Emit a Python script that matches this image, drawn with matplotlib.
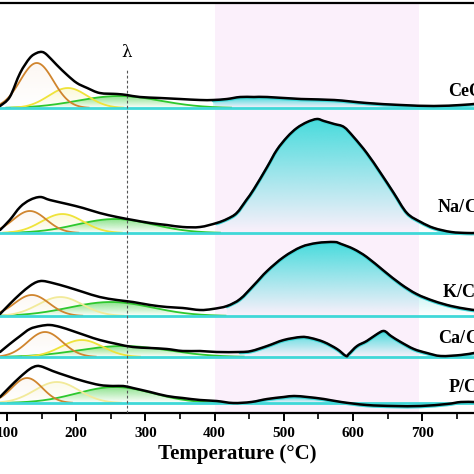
import numpy as np
import matplotlib
matplotlib.use("Agg")
import matplotlib.pyplot as plt
from matplotlib.patches import PathPatch
from matplotlib.path import Path
from matplotlib.colors import to_rgb

# ---------------- data ----------------
samples = ["CeO$_2$", "Na/CeO$_2$", "K/CeO$_2$", "Ca/CeO$_2$", "P/CeO$_2$"]
offsets = [305, 180, 97, 56, 10]

ce_T = [90, 104, 119, 133, 143, 151, 158, 172, 187, 201, 216, 234, 259, 273, 292, 321, 350, 379, 398, 418, 437, 457, 476, 525, 573, 620, 669, 717, 756, 775]
ce_I = [2, 11, 35, 50, 55, 56, 53, 43, 33, 25, 20, 15, 14, 13, 11, 10, 9, 8, 8, 9, 11, 11, 11, 9, 8, 5, 3, 2, 3, 4]

na_T = [90, 104, 119, 133, 148, 162, 187, 210, 234, 259, 282, 307, 331, 354, 379, 403, 418, 432, 446, 457, 476, 490, 505, 519, 534, 548, 558, 573, 587, 601, 620, 640, 659, 678, 698, 717, 742, 765, 775]
na_I = [3, 13, 26, 33, 36, 33, 29, 25, 20, 16, 13, 10, 8, 6, 6, 10, 14, 20, 33, 44, 66, 83, 96, 105, 111, 114, 112, 109, 106, 96, 80, 60, 40, 20, 11, 5, 1, 0, 0]

k_T = [90, 104, 119, 133, 143, 152, 166, 187, 210, 234, 259, 282, 307, 331, 354, 379, 397, 418, 437, 457, 476, 500, 525, 548, 573, 583, 601, 620, 645, 669, 692, 717, 742, 765, 775]
k_I = [2, 12, 22, 30, 34, 35, 33, 29, 24, 19, 16, 14, 11, 9, 8, 6, 7, 10, 17, 31, 45, 59, 69, 73, 74, 72, 67, 59, 45, 32, 22, 15, 10, 7, 6]

ca_T = [90, 104, 119, 133, 148, 162, 177, 195, 216, 234, 259, 282, 307, 331, 354, 379, 403, 437, 453, 476, 500, 525, 539, 558, 577, 590, 594, 606, 620, 635, 645, 655, 669, 688, 707, 727, 756, 775]
ca_I = [5, 13, 21, 28, 31, 32, 30, 26, 21, 17, 13, 10, 9, 8, 6, 6, 5, 5, 6, 11, 17, 20, 19, 15, 8, 1, 3, 11, 16, 23, 26, 21, 15, 8, 4, 1, 2, 4]

p_T = [90, 104, 119, 133, 143, 152, 166, 187, 210, 234, 253, 268, 282, 307, 331, 354, 379, 403, 427, 453, 476, 500, 515, 534, 558, 583, 620, 659, 698, 736, 756, 775]
p_I = [6, 16, 26, 34, 37, 36, 32, 27, 22, 18, 17, 17, 15, 11, 7, 5, 3, 2, 0, 1, 4, 6, 7, 6, 4, 1, -2, -3, -3, -1, 1, 1]

curves_T = [ce_T, na_T, k_T, ca_T, p_T]
curves_I = [ce_I, na_I, k_I, ca_I, p_I]

# fitted low-temperature components: (centre, height, sigma)
orange_fit = [(143, 45, 24), (133, 22, 24), (136, 21, 25), (155, 25, 25), (129, 25, 22)]
yellow_fit = [(188, 20, 28), (180, 19, 30), (177, 19, 32), (208, 17, 30), (172, 21, 32)]
green_fit = [(262, 12, 60), (256, 14, 55), (250, 14, 60), (268, 11, 65), (256, 16, 55)]
cyan_start = [380, 385, 400, 430, 440]
yellow_colors = ["#efe33a", "#efe33a", "#f2ea9a", "#efe33a", "#f2ea9a"]

label_T = [737, 721, 729, 723, 737]
label_y = [322, 206, 121, 75, 26]

# ---------------- figure ----------------
fig = plt.figure(figsize=(4.74, 4.74), dpi=100)
ax = fig.add_axes([0, 61 / 474, 1, 410 / 474])
XMIN, XMAX = 89.9, 775

serif = "Liberation Serif"


def smooth_verts(x, y):
    """Catmull-Rom style cubic Bezier path through the points."""
    P = np.column_stack([x, y]).astype(float)
    n = len(P)
    verts = [P[0]]
    codes = [Path.MOVETO]
    for i in range(n - 1):
        p0 = P[i - 1] if i > 0 else P[i]
        p1 = P[i]
        p2 = P[i + 1]
        p3 = P[i + 2] if i + 2 < n else P[i + 1]
        c1 = p1 + (p2 - p0) / 6.0
        c2 = p2 - (p3 - p1) / 6.0
        verts += [c1, c2, p2]
        codes += [Path.CURVE4] * 3
    return verts, codes


def smooth_line(ax, x, y, **kw):
    v, c = smooth_verts(x, y)
    patch = PathPatch(Path(v, c), facecolor="none", capstyle="round", joinstyle="round", **kw)
    ax.add_patch(patch)


def grad_fill(ax, x, y, base, color, alpha_top, z, smooth=False):
    x = np.asarray(x, float)
    y = np.asarray(y, float)
    if smooth:
        v, c = smooth_verts(x, y)
    else:
        v = list(np.column_stack([x, y]))
        c = [Path.MOVETO] + [Path.LINETO] * (len(x) - 1)
    v = v + [np.array([x[-1], base]), np.array([x[0], base]), np.array([x[0], base])]
    c = c + [Path.LINETO, Path.LINETO, Path.CLOSEPOLY]
    patch = PathPatch(Path(v, c), facecolor="none", edgecolor="none")
    ax.add_patch(patch)
    ymax = max(y.max(), base + 1)
    rgba = np.zeros((200, 1, 4))
    rgba[:, 0, :3] = to_rgb(color)
    rgba[:, 0, 3] = np.linspace(alpha_top, 0.0, 200)
    im = ax.imshow(rgba, aspect="auto", extent=[x.min(), x.max(), base, ymax],
                   origin="upper", zorder=z, interpolation="bilinear")
    im.set_clip_path(patch)


def gauss(t, c, h, s):
    return h * np.exp(-0.5 * ((t - c) / s) ** 2)


# pink highlighted region
ax.axvspan(400, 695, color="#fbf0fb", zorder=0, lw=0)

t = np.linspace(XMIN, XMAX, 600)
for i in range(len(samples)):
    off = offsets[i]
    T = np.array(curves_T[i], float)
    I = np.array(curves_I[i], float)

    # fitted components
    go = gauss(t, *green_fit[i])
    mask = go > 0.3
    grad_fill(ax, t[mask], off + go[mask], off, "#33cc33", 0.55, 1.2)
    ax.plot(t[mask], off + go[mask], color="#2ec82e", lw=1.3, zorder=2)

    yo = gauss(t, *yellow_fit[i])
    mask = yo > 0.3
    grad_fill(ax, t[mask], off + yo[mask], off, yellow_colors[i], 0.2, 1.1)
    ax.plot(t[mask], off + yo[mask], color=yellow_colors[i], lw=1.3, zorder=2)

    oo = gauss(t, *orange_fit[i])
    mask = oo > 0.3
    grad_fill(ax, t[mask], off + oo[mask], off, "#e0a060", 0.08, 1.1)
    ax.plot(t[mask], off + oo[mask], color="#d0852e", lw=1.3, zorder=2.1)

    # high temperature (cyan) part
    m = T >= cyan_start[i]
    grad_fill(ax, T[m], off + np.maximum(I[m], 0), off, "#33d9d9", 0.9, 1.3, smooth=True)
    smooth_line(ax, T[m], off + I[m] - 0.8, edgecolor="#3fd8d8", lw=2.2, zorder=2.5)

    # baseline
    ax.axhline(off, color="#3fd8d8", lw=2.0, zorder=2.4)

    # measured curve
    smooth_line(ax, T, off + I, edgecolor="black", lw=1.8, zorder=3)

    ax.text(label_T[i], label_y[i], samples[i], fontsize=13, fontweight="bold",
            family=serif, ha="left", va="center", zorder=4, clip_on=False)

# lambda marker
ax.plot([273, 273], [0, 345], color="#555555", lw=0.8, ls=(0, (2.5, 2)), zorder=2.6)
ax.text(273, 352, "λ", fontsize=12, family="DejaVu Serif", ha="center", va="bottom")

ax.set_xlim(XMIN, XMAX)
ax.set_ylim(0, 410)
ax.set_yticks([])
ax.spines["left"].set_visible(False)
ax.spines["right"].set_visible(False)
ax.spines["top"].set_linewidth(1.6)
ax.spines["bottom"].set_linewidth(1.6)

ax.set_xticks([100, 200, 300, 400, 500, 600, 700])
ax.set_xticks([150, 250, 350, 450, 550, 650, 750], minor=True)
ax.tick_params(axis="x", which="major", direction="out", length=6, width=1.4, pad=4)
ax.tick_params(axis="x", which="minor", direction="out", length=4, width=1.2)
for lbl in ax.get_xticklabels():
    lbl.set_family(serif)
    lbl.set_fontweight("bold")
    lbl.set_fontsize(11)
ax.set_xlabel("Temperature (°C)", fontsize=15, fontweight="bold", family=serif, labelpad=3)

fig.savefig("out.png", dpi=100)
